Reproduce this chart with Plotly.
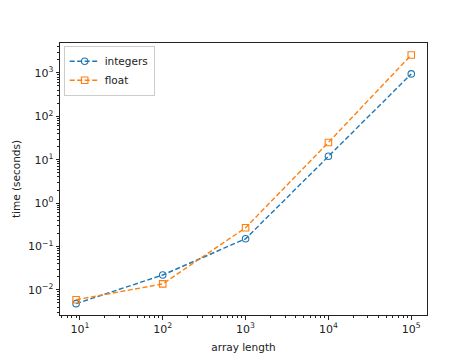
import plotly.graph_objects as go

lengths = [9, 100, 1000, 10000, 100000]
integers_time = [0.0048, 0.022, 0.15, 12.0, 950.0]
float_time = [0.0059, 0.0137, 0.27, 25.0, 2600.0]

x_major = [10, 100, 1000, 10000, 100000]
x_major_text = ["10<sup>1</sup>", "10<sup>2</sup>", "10<sup>3</sup>", "10<sup>4</sup>", "10<sup>5</sup>"]
y_major = [0.01, 0.1, 1, 10, 100, 1000]
y_major_text = ["10<sup>−2</sup>", "10<sup>−1</sup>", "10<sup>0</sup>", "10<sup>1</sup>", "10<sup>2</sup>", "10<sup>3</sup>"]

def minors(lo, hi):
    out = []
    for e in range(lo, hi):
        for m in range(2, 10):
            out.append(m * 10.0 ** e)
    return out

fig = go.Figure()
fig.add_trace(go.Scatter(
    x=lengths, y=integers_time, name="integers", mode="lines+markers",
    line=dict(color="#1f77b4", dash="5px,2.5px", width=1.4),
    marker=dict(symbol="circle-open", size=6.5, color="#1f77b4", line=dict(width=1.1)),
))
fig.add_trace(go.Scatter(
    x=lengths, y=float_time, name="float", mode="lines+markers",
    line=dict(color="#ff7f0e", dash="5px,2.5px", width=1.4),
    marker=dict(symbol="square-open", size=6.5, color="#ff7f0e", line=dict(width=1.1)),
))

tick_font = dict(family="DejaVu Sans", size=11, color="#222")
axis_common = dict(
    showline=True, mirror=True, linecolor="#222", linewidth=1,
    showgrid=False, zeroline=False, ticks="outside", ticklen=3.5, tickwidth=0.8,
    tickcolor="#222", tickfont=tick_font, automargin=False,
)

fig.update_xaxes(
    type="log", range=[0.76, 5.19], tickvals=x_major, ticktext=x_major_text,
    title=dict(text="array length", font=dict(family="DejaVu Sans", size=10.5, color="#222"), standoff=8),
    minor=dict(tickvals=minors(0, 6), ticks="outside", ticklen=2, tickwidth=0.6, tickcolor="#222"),
    **axis_common,
)
fig.update_yaxes(
    type="log", range=[-2.58, 3.69], tickvals=y_major, ticktext=y_major_text,
    title=dict(text="time (seconds)", font=dict(family="DejaVu Sans", size=10.5, color="#222"), standoff=5),
    minor=dict(tickvals=minors(-3, 4), ticks="outside", ticklen=2, tickwidth=0.6, tickcolor="#222"),
    **axis_common,
)

# page body has an 8px margin, so the figure is shrunk/offset to keep the axes where the reference has them
fig.update_layout(
    width=466, height=347,
    margin=dict(l=52, r=47, t=35, b=40),
    plot_bgcolor="white", paper_bgcolor="white",
    showlegend=True,
    legend=dict(
        x=0.01, y=0.99, xanchor="left", yanchor="top",
        bgcolor="rgba(255,255,255,0.8)", bordercolor="#ccc", borderwidth=1,
        font=dict(family="DejaVu Sans", size=10.5, color="#222"),
        tracegroupgap=0, itemwidth=30,
    ),
)

fig.write_html("out.html")
